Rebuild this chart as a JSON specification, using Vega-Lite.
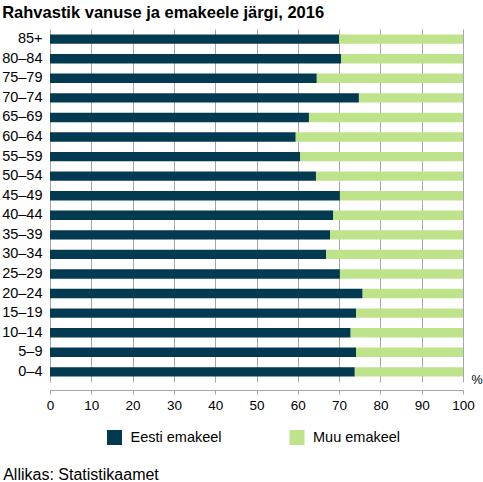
{
  "$schema": "https://vega.github.io/schema/vega-lite/v6.json",
  "width": 413,
  "height": 353,
  "autosize": {"type": "none"},
  "padding": {"left": 50, "top": 29, "right": 20, "bottom": 100},
  "background": "#ffffff",
  "title": {
    "text": "Rahvastik vanuse ja emakeele järgi, 2016",
    "anchor": "start",
    "frame": "bounds",
    "dx": 0.5,
    "offset": -5,
    "baseline": "alphabetic",
    "fontSize": 16.5,
    "fontWeight": "bold",
    "color": "#000000"
  },
  "data": {
    "values": [
      {"age": "85+", "lang": "Eesti emakeel", "value": 70.0},
      {"age": "85+", "lang": "Muu emakeel", "value": 30.0},
      {"age": "80–84", "lang": "Eesti emakeel", "value": 70.5},
      {"age": "80–84", "lang": "Muu emakeel", "value": 29.5},
      {"age": "75–79", "lang": "Eesti emakeel", "value": 64.6},
      {"age": "75–79", "lang": "Muu emakeel", "value": 35.4},
      {"age": "70–74", "lang": "Eesti emakeel", "value": 74.8},
      {"age": "70–74", "lang": "Muu emakeel", "value": 25.2},
      {"age": "65–69", "lang": "Eesti emakeel", "value": 62.7},
      {"age": "65–69", "lang": "Muu emakeel", "value": 37.3},
      {"age": "60–64", "lang": "Eesti emakeel", "value": 59.5},
      {"age": "60–64", "lang": "Muu emakeel", "value": 40.5},
      {"age": "55–59", "lang": "Eesti emakeel", "value": 60.6},
      {"age": "55–59", "lang": "Muu emakeel", "value": 39.4},
      {"age": "50–54", "lang": "Eesti emakeel", "value": 64.4},
      {"age": "50–54", "lang": "Muu emakeel", "value": 35.6},
      {"age": "45–49", "lang": "Eesti emakeel", "value": 70.2},
      {"age": "45–49", "lang": "Muu emakeel", "value": 29.8},
      {"age": "40–44", "lang": "Eesti emakeel", "value": 68.6},
      {"age": "40–44", "lang": "Muu emakeel", "value": 31.4},
      {"age": "35–39", "lang": "Eesti emakeel", "value": 67.8},
      {"age": "35–39", "lang": "Muu emakeel", "value": 32.2},
      {"age": "30–34", "lang": "Eesti emakeel", "value": 66.9},
      {"age": "30–34", "lang": "Muu emakeel", "value": 33.1},
      {"age": "25–29", "lang": "Eesti emakeel", "value": 70.2},
      {"age": "25–29", "lang": "Muu emakeel", "value": 29.8},
      {"age": "20–24", "lang": "Eesti emakeel", "value": 75.7},
      {"age": "20–24", "lang": "Muu emakeel", "value": 24.3},
      {"age": "15–19", "lang": "Eesti emakeel", "value": 74.1},
      {"age": "15–19", "lang": "Muu emakeel", "value": 25.9},
      {"age": "10–14", "lang": "Eesti emakeel", "value": 72.8},
      {"age": "10–14", "lang": "Muu emakeel", "value": 27.2},
      {"age": "5–9", "lang": "Eesti emakeel", "value": 74.1},
      {"age": "5–9", "lang": "Muu emakeel", "value": 25.9},
      {"age": "0–4", "lang": "Eesti emakeel", "value": 73.8},
      {"age": "0–4", "lang": "Muu emakeel", "value": 26.2}
    ]
  },
  "mark": {"type": "bar"},
  "encoding": {
    "y": {
      "field": "age",
      "type": "nominal",
      "sort": ["85+", "80–84", "75–79", "70–74", "65–69", "60–64", "55–59", "50–54", "45–49", "40–44", "35–39", "30–34", "25–29", "20–24", "15–19", "10–14", "5–9", "0–4"],
      "scale": {"paddingInner": 0.52, "paddingOuter": 0.28},
      "axis": {
        "title": "%",
        "titleAngle": 0,
        "titleX": 421,
        "titleY": 354.5,
        "titleAlign": "left",
        "titleBaseline": "alphabetic",
        "titleFontSize": 12.5,
        "titleFontWeight": "normal",
        "titleColor": "#000000",
        "domain": false,
        "ticks": false,
        "labelPadding": 8,
        "labelFontSize": 14.5,
        "labelColor": "#000000"
      }
    },
    "x": {
      "field": "value",
      "type": "quantitative",
      "stack": "zero",
      "scale": {"domain": [0, 100], "nice": false},
      "axis": {
        "values": [0, 10, 20, 30, 40, 50, 60, 70, 80, 90, 100],
        "offset": 8,
        "grid": true,
        "gridColor": "#a6a6a6",
        "gridWidth": 1,
        "domainColor": "#a6a6a6",
        "tickColor": "#a6a6a6",
        "tickSize": 4,
        "labelPadding": 4,
        "labelFontSize": 13.5,
        "labelColor": "#000000",
        "labelFlush": false,
        "title": "Allikas: Statistikaamet",
        "titleX": -47.3,
        "titleY": 89,
        "titleAlign": "left",
        "titleBaseline": "alphabetic",
        "titleFontSize": 16,
        "titleFontWeight": "normal",
        "titleColor": "#000000"
      }
    },
    "color": {
      "field": "lang",
      "type": "nominal",
      "scale": {"domain": ["Eesti emakeel", "Muu emakeel"], "range": ["#023a51", "#bfe38a"]},
      "legend": {
        "title": null,
        "orient": "none",
        "direction": "horizontal",
        "legendX": 57,
        "legendY": 401,
        "symbolType": "square",
        "symbolSize": 225,
        "symbolStrokeWidth": 0,
        "symbolOpacity": 1,
        "labelFontSize": 14.5,
        "labelOffset": 8.5,
        "labelColor": "#000000",
        "columnPadding": 67.5
      }
    }
  },
  "config": {
    "font": "Liberation Sans",
    "view": {"stroke": null}
  }
}
